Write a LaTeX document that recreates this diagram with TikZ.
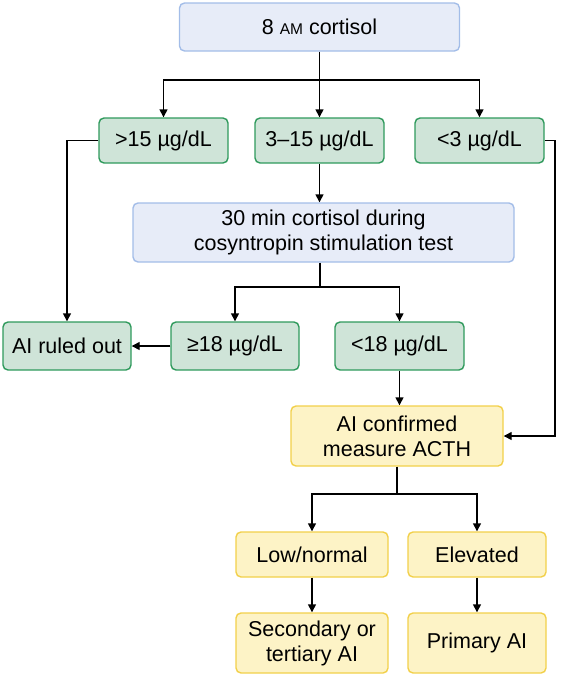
\documentclass[tikz,border=0pt]{standalone}
\usepackage{fontspec}
\setmainfont{Liberation Sans}
\usetikzlibrary{arrows.meta}
\definecolor{bfill}{HTML}{E7ECF8}
\definecolor{bdraw}{HTML}{A3BDE8}
\definecolor{gfill}{HTML}{CFE4D8}
\definecolor{gdraw}{HTML}{2F9A5C}
\definecolor{yfill}{HTML}{FDF3C6}
\definecolor{ydraw}{HTML}{F2D04A}
\tikzset{
  box/.style={rounded corners=5pt, line width=1.4pt, align=center, inner sep=0pt,
    font=\fontsize{21.5}{25}\selectfont},
  bluebox/.style={box, fill=bfill, draw=bdraw},
  greenbox/.style={box, fill=gfill, draw=gdraw},
  yellowbox/.style={box, fill=yfill, draw=ydraw},
  arr/.style={line width=1.4pt, -{Triangle[length=8pt,width=8pt]}},
  ln/.style={line width=1.4pt}
}
\begin{document}
\begin{tikzpicture}[x=1pt,y=-1pt]
\useasboundingbox (0,0) rectangle (575,680);
\node[bluebox, minimum width=280pt, minimum height=48pt] (top) at (319.5,27) {8 {\fontsize{15.5}{15}\selectfont AM} cortisol};
\node[greenbox, minimum width=129pt, minimum height=45pt] (g1) at (163.5,140.5) {>15 µg/dL};
\node[greenbox, minimum width=129pt, minimum height=45pt] (g2) at (319.5,140.5) {3–15 µg/dL};
\node[greenbox, minimum width=129pt, minimum height=45pt] (g3) at (479.5,140.5) {<3 µg/dL};
\node[bluebox, minimum width=381pt, minimum height=59pt] (cosy) at (323.5,232.5) {30 min cortisol during\\cosyntropin stimulation test};
\node[greenbox, minimum width=128pt, minimum height=48pt] (ruled) at (67,346) {AI ruled out};
\node[greenbox, minimum width=128pt, minimum height=48pt] (ge) at (235,346) {≥18 µg/dL};
\node[greenbox, minimum width=129pt, minimum height=48pt] (lt) at (399.5,346) {<18 µg/dL};
\node[yellowbox, minimum width=212pt, minimum height=60pt] (conf) at (397,436) {AI confirmed\\measure ACTH};
\node[yellowbox, minimum width=152pt, minimum height=45pt] (low) at (312,554.5) {Low/normal};
\node[yellowbox, minimum width=138pt, minimum height=45pt] (elev) at (477,554.5) {Elevated};
\node[yellowbox, minimum width=152pt, minimum height=60pt] (sec) at (312,643) {Secondary or\\tertiary AI};
\node[yellowbox, minimum width=138pt, minimum height=60pt] (prim) at (477,643) {Primary AI};
\coordinate (b1) at (319.5,80);
\coordinate (b2) at (320,287);
\coordinate (b3) at (397,494);
\coordinate (r1) at (555,140.5);
\draw[ln] (top.south) -- (b1);
\draw[arr] (b1) -| (g1.north);
\draw[arr] (b1) -| (g3.north);
\draw[arr] (b1) -- (g2.north);
\draw[arr] (g1.west) -| (ruled.north);
\draw[arr] (g3.east) -- (r1) |- (conf.east);
\draw[arr] (g2.south) -- (g2.south |- cosy.north);
\draw[ln] (cosy.south -| b2) -- (b2);
\draw[arr] (b2) -| (ge.north);
\draw[arr] (b2) -| (lt.north);
\draw[arr] (ge.west) -- (ruled.east);
\draw[arr] (lt.south) -- (lt.south |- conf.north);
\draw[ln] (conf.south) -- (b3);
\draw[arr] (b3) -| (low.north);
\draw[arr] (b3) -| (elev.north);
\draw[arr] (low.south) -- (sec.north);
\draw[arr] (elev.south) -- (prim.north);
\end{tikzpicture}
\end{document}
